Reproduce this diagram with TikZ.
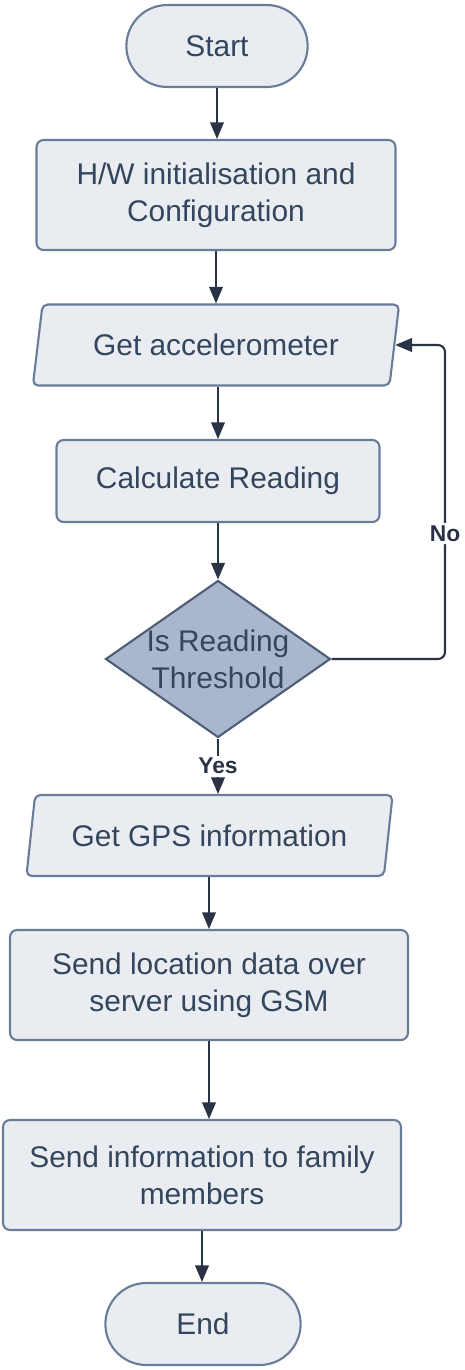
\documentclass[tikz,border=0pt]{standalone}
\usepackage{fontspec}
\setmainfont{Liberation Sans}
\usepackage{xcolor}
\usepackage{tikz}
\usetikzlibrary{positioning, arrows}
\usetikzlibrary{shapes.misc}
\usetikzlibrary{shapes.geometric}
\definecolor{boxfill}{HTML}{E9EDF1}
\definecolor{boxline}{HTML}{6A7C98}
\definecolor{decfill}{HTML}{A9B6CC}
\definecolor{decline}{HTML}{4E5E78}
\definecolor{textcol}{HTML}{34465E}
\definecolor{flowcol}{HTML}{2A3344}
\tikzset{
	terminal/.style={rounded rectangle, draw=boxline, fill=boxfill, line width=1.2pt, text=textcol,
	font=\fontsize{17}{21}\selectfont, minimum width=3.86cm, minimum height=1.64cm}
}
\tikzset{
	process/.style={rectangle, rounded corners=4pt, draw=boxline, fill=boxfill, line width=1.2pt, text=textcol,
	align=center, font=\fontsize{17}{21}\selectfont, minimum height=2.2cm}
}
\tikzset{
	inout/.style={trapezium, trapezium left angle=78, trapezium right angle=102, trapezium stretches=true,
	rounded corners=3pt, draw=boxline, fill=boxfill, line width=1.2pt, text=textcol,
	font=\fontsize{17}{21}\selectfont, minimum width=7.34cm, minimum height=1.62cm}
}
\tikzset{
	decision/.style={diamond, draw=decline, fill=decfill, line width=1.2pt, inner sep=0pt,
	minimum width=4.5cm, minimum height=3.14cm}
}
\tikzset{
	flow/.style={line width=1.2pt, draw=flowcol, -triangle 45}
}
\tikzset{
	answer/.style={fill=white, inner sep=1.5pt, text=flowcol, font=\fontsize{13}{15}\selectfont\bfseries}
}

\begin{document}
\begin{tikzpicture}[x=0.02cm, y=-0.02cm]

		% page frame, in pixels of the sketch
		\useasboundingbox (0,0) rectangle (464,1370);

		% steps
		\node[terminal] (start) at (217,46) {Start};
		\node[process, minimum width=7.18cm] (init) at (216,195) {H/W initialisation and\\Configuration};
		\node[inout] (accel) at (216,345) {Get accelerometer};
		\node[process, minimum width=6.46cm, minimum height=1.64cm] (calc) at (218,481) {Calculate Reading};
		\node[decision, label={[text=textcol, align=center, font=\fontsize{17}{21}\selectfont]center:Is Reading\\Threshold}] (check) at (218,659) {};
		\node[inout] (gps) at (209.5,835.5) {Get GPS information};
		\node[process, minimum width=7.96cm] (send) at (209,985) {Send location data over\\server using GSM};
		\node[process, minimum width=7.96cm] (notify) at (202,1175) {Send information to family\\members};
		\node[terminal, minimum width=4.14cm] (end) at (203,1324) {End};

		% main flow
		\draw[flow] (start.south) -- (start.south |- init.north);
		\draw[flow] (init.south) -- (init.south |- accel.north);
		\draw[flow] (accel.south -| calc.north) -- (calc.north);
		\draw[flow] (calc.south) -- (calc.south |- check.north);
		\draw[flow] (check.south) -- node[answer] {Yes} (check.south |- gps.north);
		\draw[flow] (gps.south -| send.north) -- (send.north);
		\draw[flow] (send.south) -- (send.south |- notify.north);
		\draw[flow] (notify.south) -- (notify.south |- end.north);

		% loop back
		\coordinate (loop) at (445,659);
		\draw[flow, rounded corners=4pt] (check.east) -- (loop) |- node[answer, pos=0.2] {No} (accel.east);

\end{tikzpicture}
\end{document}
